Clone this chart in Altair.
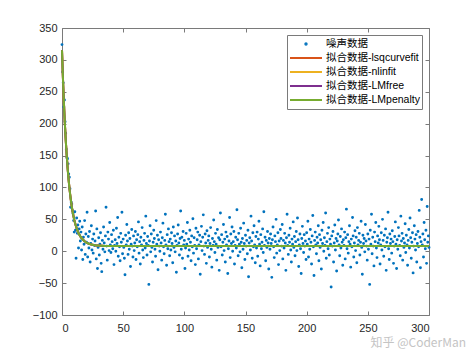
import altair as alt
import pandas as pd

# ---- data (estimated) ----
noise_y = [
    324, 281, 264, 226, 237, 203, 185, 160, 147, 145, 137, 121, 116, 98, 69, 77, 74, 64, 59, 48,
    30, 62, 33, -11, 52, 28, 41, 5, 35, 47, 16, 30, 2, 38, -13, 22, 11, 48, -5, 27,
    14, 61, -9, 23, 5, 31, -17, 12, 40, 2, 19, -3, 27, 9, 16, 63, -12, 35, -27, 6,
    21, -6, 11, 29, -19, -32, 17, 3, 38, 13, -1, 24, 69, 8, -14, 30, 19, 1, 45, 10,
    -2, 26, 15, 4, 33, -21, 9, 18, 0, 36, 12, 53, -8, 22, 7, -15, 28, 14, 61, -4,
    19, 6, -11, -37, 25, 10, 42, 16, -5, 29, 3, 20, -24, 11, 34, 8, -9, 24, 1, 13,
    31, -13, 18, 7, 26, 46, -3, 15, -20, 22, 10, 37, 2, -10, 17, 28, 5, 55, 12, -6,
    23, 9, -52, 16, 40, -1, 27, 6, -17, 14, 33, 20, 3, -8, 48, 11, 25, -29, 18, 8,
    0, 30, 13, -14, 21, 44, 7, -4, 17, 58, 10, -22, 26, 4, 35, 15, -7, 19, 2, 29,
    12, -18, 38, 6, 24, -1, 16, -33, 9, 27, 41, 13, -6, 20, 63, 3, 22, -11, 31, 10,
    17, -27, 5, 28, 11, 45, -8, 19, 2, 33, 14, -15, 24, 7, 51, -3, 21, 9, -21, 36,
    4, 18, 30, -12, 10, 25, -36, 15, 39, 1, 22, 57, 8, -5, 27, 13, -19, 32, 6, 17,
    24, -9, 12, 37, 3, -25, 20, 9, 49, 15, -2, 28, 11, -14, 34, 6, 21, -30, 18, 60,
    7, 26, -6, 14, 42, 1, 19, -17, 30, 10, 23, -35, 4, 16, 53, -10, 27, 12, 38, 0,
    15, 31, -20, 9, 22, 5, 65, 18, -7, 28, 11, -1, 36, 14, -26, 20, 3, 44, 12, -13,
    25, 8, 17, -4, 33, -40, 13, 21, 2, 55, 16, -11, 29, 7, 40, 10, -18, 23, 5, 30,
    -8, 19, 47, 11, -23, 26, 4, 14, 35, -2, 62, 9, 22, -15, 17, 6, 31, 13, -28, 20,
    3, 27, 12, -41, 18, 38, 7, -10, 24, 15, 50, -3, 10, 29, -21, 16, 1, 34, 20, 8,
    42, -12, 17, 5, 28, 13, -30, 21, 58, 9, -5, 25, 14, 36, 2, -17, 19, 11, 46, 6,
    23, -7, 15, 31, 1, 52, 18, -24, 10, 27, 4, -35, 20, 39, 12, -2, 26, 8, 16, -13,
    29, 11, 47, -9, 19, 3, 34, 14, -20, 24, 56, 7, -38, 17, 30, 10, -4, 22, 13, 40,
    -15, 26, 6, 18, -28, 33, 12, 45, 0, 21, 9, 60, -11, 15, 28, 4, 37, -6, 19, 11,
    -56, 24, 8, 31, -17, 13, 41, 2, 20, -31, 16, 27, 49, 10, -7, 23, 5, 35, 14, -22,
    18, 9, 30, -12, 21, 66, 4, 26, -3, 15, 40, 11, -25, 19, 7, 53, 24, -9, 13, 32,
    1, 22, -18, 37, 10, 17, 28, -6, 14, 47, 6, -36, 25, 12, 20, -1, 42, 16, 8, -14,
    27, 3, 19, -52, 33, 11, 58, -4, 22, 8, -23, 30, 15, 45, 5, -10, 24, 13, 39, 18,
    -20, 10, 29, 2, 50, 17, -8, 25, 7, 35, -30, 14, 21, 61, 4, -13, 27, 12, 19, -3,
    32, 15, -19, 8, 23, 46, 11, -27, 18, 3, 37, 24, 9, -7, 55, 16, 28, -14, 20, 6,
    13, 43, -2, 25, 10, -22, 17, 34, 5, 52, 21, -11, 14, 29, -34, 8, 40, 19, 2, 26,
    -17, 12, 31, 7, 64, 22, -26, 15, 81, 10, 27, -9, 45, 18, 4, 33, -19, 70, 14, 24,
    6,
]
noise_step = 0.5
noise_x = [i * noise_step for i in range(len(noise_y))]

fit_x = [0, 0.5, 1, 1.5, 2, 2.5, 3, 3.5, 4, 4.5, 5, 5.5, 6, 6.5, 7, 7.5, 8, 8.5, 9, 9.5, 10,
         11, 12, 13, 14, 15, 16, 17, 18, 19, 20,
         22, 24, 26, 28, 30, 35, 40, 50, 300]
fit_y = [315, 285.8, 259.3, 235.4, 213.8, 194.2, 176.5, 160.5, 145.9, 132.8, 120.9, 110.2,
         100.5, 91.7, 83.7, 76.5, 70.0, 64.1, 58.7, 53.9, 49.5,
         42.0, 35.8, 30.8, 26.7, 23.3, 20.5, 18.3, 16.4, 14.9, 13.6,
         11.8, 10.5, 9.7, 9.1, 8.8, 8.3, 8.1, 8.0, 8.0]

series_names = ["噪声数据", "拟合数据-lsqcurvefit", "拟合数据-nlinfit",
                "拟合数据-LMfree", "拟合数据-LMpenalty"]
series_colors = ["#0072BD", "#D95319", "#EDB120", "#7E2F8E", "#77AC30"]
series_shapes = ["circle", "stroke", "stroke", "stroke", "stroke"]
series_sizes = [2, 1024, 1024, 1024, 1024]

x_ticks = [0, 50, 100, 150, 200, 250, 300]
y_ticks = [-100, -50, 0, 50, 100, 150, 200, 250, 300, 350]
watermark = "知乎 @CoderMan"

# ---- build ----
noise_df = pd.DataFrame({"x": noise_x, "y": noise_y, "series": series_names[0]})
fit_df = pd.concat(
    [pd.DataFrame({"x": fit_x, "y": fit_y, "series": n}) for n in series_names[1:]],
    ignore_index=True,
)

W, H = 367, 287
AX = "#262626"
LINE = "#7a7a7a"
xs = alt.Scale(domain=[0, 300], nice=False, zero=False)
ys = alt.Scale(domain=[-100, 350], nice=False, zero=False)


def label_axis(orient, values, pad):
    return alt.Axis(orient=orient, values=values, title=None, grid=False, domain=False,
                    ticks=False, tickSize=0, labelPadding=pad, labelFont="Liberation Sans",
                    labelFontSize=11, labelColor=AX)


def tick_axis(orient, values, offset):
    return alt.Axis(orient=orient, values=values, title=None, grid=False, domain=False,
                    labels=False, ticks=True, tickSize=4, tickColor=LINE, tickWidth=1,
                    offset=offset)


legend = alt.Legend(title=None, orient="none", legendX=225, legendY=7,
                    fillColor="white", strokeColor=LINE, padding=2, clipHeight=14,
                    rowPadding=0, symbolOffset=0, labelOffset=3,
                    labelFont="Liberation Sans, Noto Sans CJK SC", labelFontSize=10.5,
                    labelColor="#000000", symbolStrokeWidth=2, labelLimit=300)

points = alt.Chart(noise_df).mark_point(filled=False, strokeWidth=1.5, opacity=1).encode(
    x=alt.X("x:Q", scale=xs, axis=label_axis("bottom", x_ticks, 7)),
    y=alt.Y("y:Q", scale=ys, axis=label_axis("left", y_ticks, 5)),
    color=alt.Color("series:N", scale=alt.Scale(domain=series_names, range=series_colors),
                    legend=legend),
    shape=alt.Shape("series:N", scale=alt.Scale(domain=series_names, range=series_shapes),
                    legend=legend),
    size=alt.Size("series:N", scale=alt.Scale(type="ordinal", domain=series_names,
                                              range=series_sizes), legend=legend),
)

layers = [points]
for k, (name, col) in enumerate(zip(series_names[1:], series_colors[1:])):
    if k == 0:
        xa = tick_axis("top", x_ticks, -H)
        ya = tick_axis("right", y_ticks, -W)
    elif k == 1:
        xa = tick_axis("bottom", x_ticks, -H)
        ya = tick_axis("left", y_ticks, -W)
    else:
        xa = None
        ya = None
    layers.append(
        alt.Chart(fit_df[fit_df["series"] == name]).mark_line(color=col, strokeWidth=2).encode(
            x=alt.X("x:Q", scale=xs, axis=xa),
            y=alt.Y("y:Q", scale=ys, axis=ya),
        )
    )

chart = alt.layer(*layers).resolve_axis(x="independent", y="independent").properties(
    width=W, height=H,
    autosize=alt.AutoSizeParams(type="none"),
    padding={"left": 62, "top": 28, "right": 45, "bottom": 40},
    title=alt.TitleParams(text=watermark, orient="bottom", anchor="end", dx=33, offset=5,
                          font="Noto Sans CJK SC", fontSize=12, fontWeight="normal",
                          color="#c4c4c4"),
).configure_view(stroke=LINE, strokeWidth=1)

chart.save("out.html", embed_options={"renderer": "svg", "actions": False})
